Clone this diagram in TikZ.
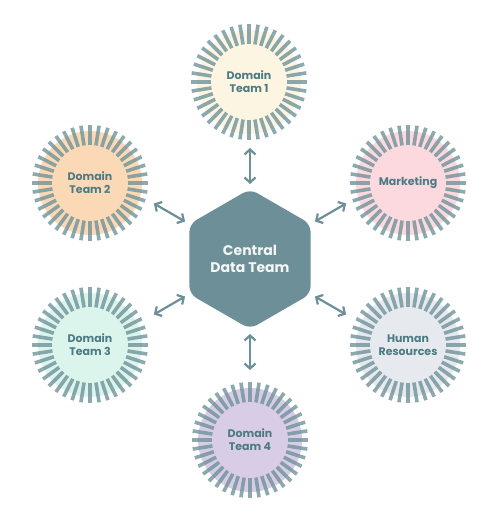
\documentclass[tikz,border=0pt]{standalone}
\usepackage{fontspec}
\setmainfont{Poppins}
\usetikzlibrary{shapes.geometric,arrows.meta}
\definecolor{hubcol}{HTML}{6D8F97}
\definecolor{spokecol}{HTML}{6F939A}
\definecolor{txtcol}{HTML}{4D7A83}
\definecolor{creamfill}{HTML}{FCF5E2}
\definecolor{peachfill}{HTML}{FBD9B6}
\definecolor{pinkfill}{HTML}{FBD9DE}
\definecolor{mintfill}{HTML}{DCF5EC}
\definecolor{greyfill}{HTML}{E6E9EE}
\definecolor{lilacfill}{HTML}{D8CCE6}

\begin{document}
\begin{tikzpicture}[x=1pt,y=1pt,
    team/.style={circle, minimum size=104pt, inner sep=0pt, outer sep=0pt, align=center,
      font=\bfseries\fontsize{11}{13}\selectfont, text=txtcol},
    spoke/.style={draw=spokecol, line width=3.6pt, opacity=0.8},
    link/.style={draw=hubcol, line width=2.2pt,
      {Straight Barb[length=5pt,width=11pt]}-{Straight Barb[length=5pt,width=11pt]}}]
  \useasboundingbox (0,0) rectangle (501,523);
  % central team
  \node[regular polygon, regular polygon sides=6, shape border rotate=30,
    minimum size=140pt, inner sep=0pt, outer sep=0pt, rounded corners=8pt,
    fill=hubcol, text=white!92!hubcol, align=center,
    font=\bfseries\fontsize{14}{17}\selectfont] (hub) at (250, 264) {Central\\Data Team};
  % surrounding teams
  \node[team, fill=creamfill] (dt1) at (249, 441) {Domain\\Team 1};
  \node[team, fill=peachfill] (dt2) at (90, 340) {Domain\\Team 2};
  \node[team, fill=pinkfill] (mkt) at (408, 340) {Marketing};
  \node[team, fill=mintfill] (dt3) at (90, 178) {Domain\\Team 3};
  \node[team, fill=greyfill] (hr) at (408, 178) {Human\\Resources};
  \node[team, fill=lilacfill] (dt4) at (250, 83) {Domain\\Team 4};
  \foreach \n in {dt1,dt2,mkt,dt3,hr,dt4}
    \foreach \t in {0,9,...,351}
      \draw[spoke] ([shift={(\t:38)}]\n.center) -- ([shift={(\t:58)}]\n.center);
  % links
  \foreach \a in {30,90,150,210,270,330}
    \draw[link] ([shift={(\a:5)}]hub.\a) -- ([shift={(\a:41)}]hub.\a);
\end{tikzpicture}
\end{document}
